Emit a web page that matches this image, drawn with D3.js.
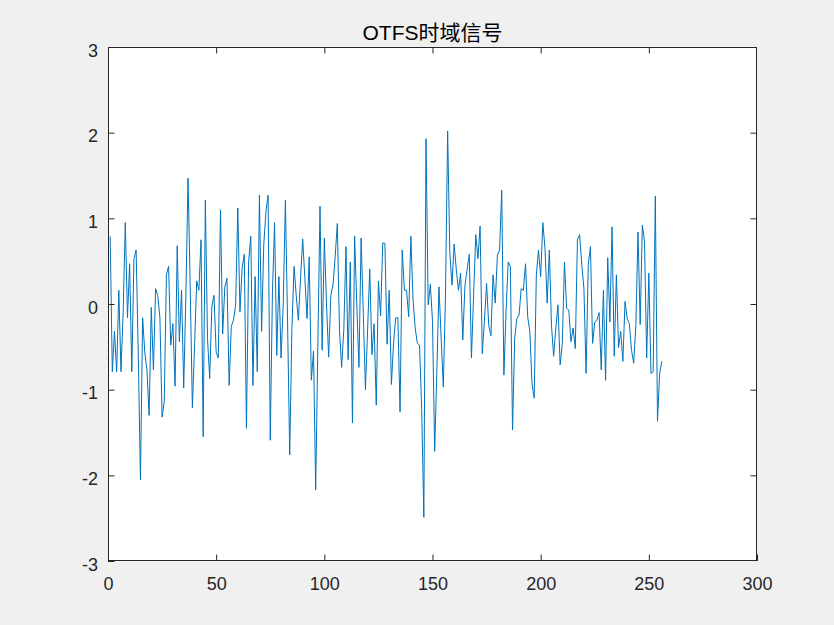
<!DOCTYPE html>
<html>
<head>
<meta charset="utf-8">
<script src="https://cdn.jsdelivr.net/npm/d3@7"></script>
<style>
  html, body { margin: 0; padding: 0; background: #f0f0f0; }
  svg { display: block; }
  text { font-family: "Liberation Sans", Arial, "Noto Sans CJK SC", sans-serif; }
</style>
</head>
<body>
<svg id="chart" width="834" height="625"></svg>
<script>
const chartTitle = "OTFS时域信号";
const xTicks = [0, 50, 100, 150, 200, 250, 300];
const yTicks = [-3, -2, -1, 0, 1, 2, 3];
// signal samples, index 1..256
const signal = [
  0.79, -0.79, -0.32, -0.79, 0.16, -0.79, -0.10, 0.95, -0.16, 0.47,
  -0.79, 0.53, 0.63, -0.60, -2.05, -0.16, -0.56, -0.77, -1.30, -0.04,
  -0.77, 0.18, 0.10, -0.16, -1.32, -1.14, 0.34, 0.44, -0.48, -0.23,
  -0.96, 0.68, -0.44, 0.16, -0.98, 0.10, 1.47, 0.20, -1.21, -0.50,
  0.27, 0.16, 0.75, -1.55, 1.21, -0.40, -0.87, -0.03, 0.10, -0.56,
  -0.63, 1.10, -0.35, 0.20, 0.30, -0.95, -0.26, -0.19, -0.01, 1.12,
  -0.09, 0.42, 0.58, -1.45, 0.49, 0.79, -0.95, 0.32, -0.79, 1.27,
  -0.32, 0.69, 1.08, 1.27, -1.59, 0.12, 0.95, -0.60, 0.32, -0.63,
  0.00, 1.21, -0.20, -1.76, -0.30, 0.44, 0.10, -0.19, 0.30, 0.76,
  0.30, -0.17, 0.55, -0.89, -0.55, -2.17, -0.50, 1.14, -0.54, 0.77,
  0.00, -0.62, 0.10, 0.22, 0.55, 0.94, -0.30, -0.74, -0.30, 0.67,
  -0.65, 0.49, -1.39, 0.79, 0.00, -0.74, 0.77, -0.10, -1.00, -0.30,
  0.41, -0.59, -0.23, -1.18, 0.27, -0.14, 0.71, 0.71, -0.47, 0.16,
  -0.94, -0.45, -0.16, -0.16, -1.26, 0.63, 0.16, 0.16, -0.15, 0.79,
  0.05, -0.28, -0.46, -0.48, -1.22, -2.49, 1.93, -0.01, 0.23, -0.20,
  -1.72, -0.80, 0.20, -0.40, -0.97, 0.10, 2.02, 0.60, 0.22, 0.70,
  0.40, 0.16, 0.36, -0.42, 0.22, 0.40, 0.58, -0.63, 0.10, 0.81,
  0.53, 0.91, -0.58, -0.20, 0.24, -0.25, -0.37, 0.34, 0.01, 0.57,
  0.63, 1.33, -0.83, -0.09, 0.49, 0.44, -1.47, -0.40, -0.17, -0.13,
  0.18, 0.16, 0.47, -0.15, -0.32, -0.93, -1.10, 0.34, 0.63, 0.32,
  0.95, 0.65, 0.01, 0.63, -0.25, -0.61, -0.28, -0.01, -0.71, -0.46,
  0.49, -0.05, -0.07, -0.44, -0.28, -0.52, 0.75, 0.81, 0.46, 0.18,
  -0.81, 0.46, 0.67, -0.46, -0.21, -0.19, -0.10, -0.77, 0.16, -0.89,
  0.54, -0.21, 0.90, -0.61, 0.34, -0.51, -0.32, -0.67, 0.03, -0.17,
  -0.23, -0.54, -0.69, -0.25, 0.84, -0.24, 0.92, 0.73, -0.63, 0.36,
  -0.81, -0.79, 1.26, -1.37, -0.81, -0.67
];

const svg = d3.select("#chart");
const mLeft = 108, mRight = 757, mTop = 47, mBottom = 561;
const x = d3.scaleLinear().domain([0, 300]).range([mLeft, mRight]);
const y = d3.scaleLinear().domain([-3, 3]).range([mBottom, mTop]);
const axisColor = "#262626";
const tickLen = 6.5;

svg.append("rect").attr("x", mLeft).attr("y", mTop)
  .attr("width", mRight - mLeft).attr("height", mBottom - mTop).attr("fill", "#ffffff");

const data = signal.map((v, i) => [i + 1, v]);
svg.append("path").datum(data)
  .attr("fill", "none").attr("stroke", "#0072BD").attr("stroke-width", 1)
  .attr("stroke-linejoin", "round")
  .attr("d", d3.line().x(d => x(d[0])).y(d => y(d[1])));

function styleAxis(g, showLabels) {
  g.select(".domain").remove();
  g.selectAll(".tick line").attr("stroke", axisColor);
  g.selectAll(".tick text").attr("fill", showLabels ? axisColor : "none")
    .style("font-size", "18px");
}

svg.append("g").attr("transform", `translate(0,${mBottom})`)
  .call(d3.axisBottom(x).tickValues(xTicks).tickSizeInner(-tickLen).tickSizeOuter(0).tickPadding(16).tickFormat(d3.format("d")))
  .call(g => styleAxis(g, true));
svg.append("g").attr("transform", `translate(0,${mTop})`)
  .call(d3.axisTop(x).tickValues(xTicks.slice(1, -1)).tickSizeInner(-tickLen).tickSizeOuter(0).tickFormat(""))
  .call(g => styleAxis(g, false));
svg.append("g").attr("transform", `translate(${mLeft},0)`)
  .call(d3.axisLeft(y).tickValues(yTicks).tickSizeInner(-tickLen).tickSizeOuter(0).tickPadding(10).tickFormat(d => d < 0 ? "-" + Math.abs(d) : String(d)))
  .call(g => styleAxis(g, true))
  .call(g => g.selectAll(".tick text").attr("dy", "0.5em"));
svg.append("g").attr("transform", `translate(${mRight},0)`)
  .call(d3.axisRight(y).tickValues(yTicks.slice(1, -1)).tickSizeInner(-tickLen).tickSizeOuter(0).tickFormat(""))
  .call(g => styleAxis(g, false));

svg.append("rect").attr("x", mLeft + 0.5).attr("y", mTop + 0.5)
  .attr("width", mRight - mLeft - 1).attr("height", mBottom - mTop - 1)
  .attr("fill", "none").attr("stroke", axisColor).attr("stroke-width", 1);

svg.append("text").attr("x", (mLeft + mRight) / 2).attr("y", 40)
  .attr("text-anchor", "middle").attr("fill", "#000000")
  .style("font-size", "21px").text(chartTitle);
</script>
</body>
</html>
